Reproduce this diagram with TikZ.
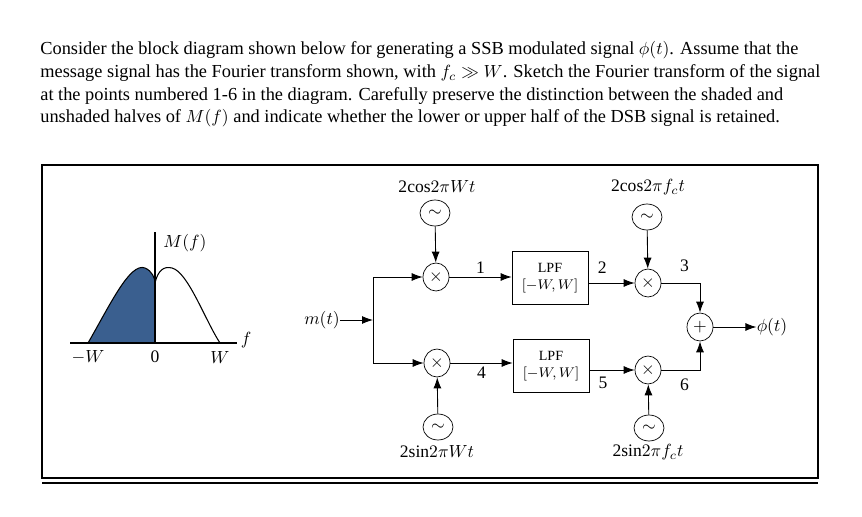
\documentclass[tikz,border=0pt]{standalone}
\usepackage{fontspec}
\setmainfont{Liberation Serif}
\usetikzlibrary{shapes.geometric,arrows.meta}
\definecolor{mfblue}{HTML}{3A5F8F}
\begin{document}
\begin{tikzpicture}[x=0.02cm,y=-0.02cm,
  every node/.style={inner sep=0pt},
  txt/.style={anchor=west,font=\fontsize{10.45pt}{13pt}\selectfont},
  lbl/.style={font=\fontsize{10pt}{12pt}\selectfont},
  mult/.style={draw,ellipse,minimum width=0.52cm,minimum height=0.56cm},
  osc/.style={draw,ellipse,minimum width=0.6cm,minimum height=0.52cm},
  lpf/.style={draw,minimum width=1.52cm,minimum height=1.06cm,align=center,font=\fontsize{8pt}{10pt}\selectfont},
  arr/.style={-{Latex[length=2.2mm,width=1.6mm]},line width=0.5pt}]
\useasboundingbox (0,0) rectangle (862,517);

% question text
\node[txt] (l1) at (40,50) {Consider the block diagram shown below for generating a SSB modulated signal $\phi(t)$. Assume that the};
\node[txt] (l2) at (40,73) {message signal has the Fourier transform shown, with $f_c \gg W$. Sketch the Fourier transform of the signal};
\node[txt] (l3) at (40,96) {at the points numbered 1-6 in the diagram. Carefully preserve the distinction between the shaded and};
\node[txt] (l4) at (40,118) {unshaded halves of $M(f)$ and indicate whether the lower or upper half of the DSB signal is retained.};

% frame
\draw[line width=0.6pt] (42,165) rectangle (818,478);
\draw[line width=1.2pt] (42,483) -- (818,483);

% spectrum
\fill[mfblue] (88,343) .. controls (110,305) and (130,262) .. (145,268) .. controls (152,271) and (155,278) .. (155,283) -- (155,343) -- cycle;
\draw[line width=0.6pt] (88,343) .. controls (110,305) and (130,262) .. (145,268) .. controls (152,271) and (155,278) .. (155,283);
\draw[line width=0.6pt] (155,283) .. controls (158,270) and (164,266) .. (172,268) .. controls (188,272) and (205,320) .. (220,343);
\draw[line width=0.6pt] (70,343) -- (237,343);
\draw[line width=0.8pt] (155,232) -- (155,343);
\node (mf) at (185,243) {$M(f)$};
\node (fl) at (246,340) {$f$};
\node[lbl] (mw) at (88,357) {$-W$};
\node[lbl] (z) at (155,357) {0};
\node[lbl] (pw) at (220,357) {$W$};

% block diagram
\node (m) at (322,320) {$m(t)$};
\coordinate (sp) at (373,320);
\node[mult] (x1) at (436,277) {$\times$};
\node[mult] (x2) at (437,363) {$\times$};
\node[osc] (o1) at (435,213) {$\sim$};
\node[osc] (o2) at (438,427) {$\sim$};
\node (o1l) at (437,187) {2cos$2\pi Wt$};
\node (o2l) at (437,452) {2sin$2\pi Wt$};
\node[lpf] (f1) at (550,278) {LPF\\$[-W,W]$};
\node[lpf] (f2) at (551,366) {LPF\\$[-W,W]$};
\node[mult] (x3) at (648,283) {$\times$};
\node[mult] (x4) at (648,370) {$\times$};
\node[osc] (o3) at (647,217) {$\sim$};
\node[osc] (o4) at (649,428) {$\sim$};
\node (o3l) at (648,187) {2cos$2\pi f_c t$};
\node (o4l) at (648,452) {2sin$2\pi f_c t$};
\node[mult] (ad) at (700,327) {$+$};
\node (phi) at (772,327) {$\phi(t)$};

\draw[arr] (m.east) -- (sp);
\draw[arr] (sp) |- (x1);
\draw[arr] (sp) |- (x2);
\draw[arr] (o1) -- (x1);
\draw[arr] (o2) -- (x2);
\draw[arr] (x1) -- (x1 -| f1.west) node[midway,above=2pt,lbl] (n1) {1};
\draw[arr] (x2) -- (x2 -| f2.west) node[midway,below=2pt,lbl] (n4) {4};
\draw[arr] (f1.east |- x3) -- (x3) node[pos=0.3,above=5pt,lbl] (n2) {2};
\draw[arr] (f2.east |- x4) -- (x4) node[pos=0.3,below=4pt,lbl] (n5) {5};
\draw[arr] (o3) -- (x3);
\draw[arr] (o4) -- (x4);
\draw[arr] (x3) -| (ad) node[pos=0.3,above=6pt,lbl] (n3) {3};
\draw[arr] (x4) -| (ad) node[pos=0.3,below=5pt,lbl] (n6) {6};
\draw[arr] (ad) -- (phi);
\end{tikzpicture}
\end{document}
